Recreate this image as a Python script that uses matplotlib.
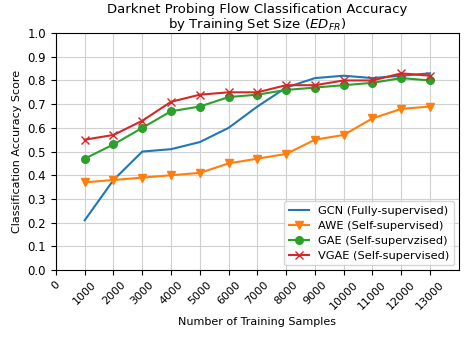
import matplotlib
matplotlib.use('Agg')
import matplotlib.pyplot as plt

samples = [1000, 2000, 3000, 4000, 5000, 6000, 7000, 8000, 9000, 10000, 11000, 12000, 13000]
gcn = [0.21, 0.38, 0.50, 0.51, 0.54, 0.60, 0.69, 0.77, 0.81, 0.82, 0.81, 0.82, 0.83]
awe = [0.37, 0.38, 0.39, 0.40, 0.41, 0.45, 0.47, 0.49, 0.55, 0.57, 0.64, 0.68, 0.69]
gae = [0.47, 0.53, 0.60, 0.67, 0.69, 0.73, 0.74, 0.76, 0.77, 0.78, 0.79, 0.81, 0.80]
vgae = [0.55, 0.57, 0.63, 0.71, 0.74, 0.75, 0.75, 0.78, 0.78, 0.80, 0.80, 0.83, 0.82]

xticks = list(range(0, 14000, 1000))
yticks = [i / 10 for i in range(11)]

fig = plt.figure(figsize=(4.74, 3.48), dpi=100)
ax = fig.add_axes([0.118, 0.224, 0.850, 0.681])

ax.plot(samples, gcn, color='tab:blue', linewidth=1.5, label='GCN (Fully-supervised)')
ax.plot(samples, awe, color='tab:orange', linewidth=1.5, marker='v', markersize=5.5, label='AWE (Self-supervised)')
ax.plot(samples, gae, color='tab:green', linewidth=1.5, marker='o', markersize=5.5, label='GAE (Self-supervzised)')
ax.plot(samples, vgae, color='tab:red', linewidth=1.5, marker='x', markersize=5.5, label='VGAE (Self-supervised)')

ax.set_xlim(0, 14000)
ax.set_ylim(0, 1.0)
ax.set_xticks(xticks)
ax.set_xticklabels([str(t) for t in xticks], rotation=45, fontsize=8)
ax.set_yticks(yticks)
ax.set_yticklabels([f'{t:.1f}' for t in yticks], fontsize=8.5)
ax.grid(True, color='#d0d0d0', linewidth=0.8)

ax.set_title('Darknet Probing Flow Classification Accuracy\nby Training Set Size ($ED_{FR}$)',
             fontsize=9.5, pad=3, linespacing=1.0)
ax.set_xlabel('Number of Training Samples', fontsize=8)
ax.set_ylabel('Classification Accuracy Score', fontsize=8)
ax.legend(loc='lower right', fontsize=8.2, labelspacing=0.45, handlelength=1.8,
          borderaxespad=0.4)

fig.savefig('out.png', dpi=100)
